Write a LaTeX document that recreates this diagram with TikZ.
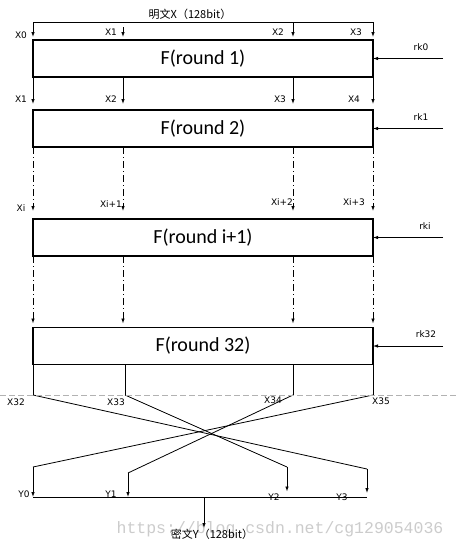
\documentclass[tikz,border=0pt]{standalone}
\usepackage{fontspec}
\setmainfont{Carlito}
\newfontfamily\lblfont{DejaVu Sans}
\newfontfamily\cjkfont{Noto Sans CJK SC}
\newfontfamily\wmfont{Liberation Mono}
\usetikzlibrary{arrows.meta,calc}
\begin{document}
\begin{tikzpicture}[x=1pt,y=-1pt,
  fbox/.style={draw,line width=1.6pt,minimum width=340pt,minimum height=37pt,inner sep=0pt,outer sep=0pt,font=\fontsize{20}{24}\selectfont},
  lbl/.style={inner sep=0pt,font=\lblfont\fontsize{9}{10}\selectfont},
  cjk/.style={inner sep=0pt,font=\cjkfont\fontsize{11}{13}\selectfont},
  ln/.style={line width=0.8pt},
  arr/.style={ln,-{Latex[length=5pt,width=3.5pt]}},
  dd/.style={arr,dash pattern=on 7pt off 3pt on 1pt off 3pt},
  gdash/.style={line width=0.8pt,draw=black!30,dash pattern=on 6pt off 3pt}
]
\useasboundingbox[fill=white] (0,0) rectangle (458,550);

% watermark
\node[inner sep=0pt,font=\wmfont\fontsize{16.5}{18}\selectfont,text=black!20] (wm) at (280,529) {https://blog.csdn.net/cg129054036};

% columns
\coordinate (c0) at (33,0);
\coordinate (c1) at (123,0);
\coordinate (c2) at (293,0);
\coordinate (c3) at (373,0);
\coordinate (rc) at (443,0);

% boxes
\node[fbox] (b1) at (203,58.5) {F(round 1)};
\node[fbox] (b2) at (203,128.5) {F(round 2)};
\node[fbox] (b3) at (203,237.5) {F(round i+1)};
\node[fbox] (b4) at (203,346) {F(round 32)};

% top input
\node[cjk] (title) at (190,14) {明文X（128bit）};
\coordinate (t0) at (33,22);
\coordinate (t1) at (123,27);
\coordinate (t2) at (293,22);
\coordinate (t3) at (373,22);
\draw[ln] (t0) -- (t3);
\draw[arr,shorten >=3pt] (t0) -- (b1.north west);
\draw[arr,shorten >=3pt] (t1) -- (t1 |- b1.north);
\draw[arr,shorten >=3pt] (t2) -- (t2 |- b1.north);
\draw[arr,shorten >=3pt] (t3) -- (b1.north east);
\node[lbl] (lx0) at (21,35) {X0};
\node[lbl] (lx1) at (111,32) {X1};
\node[lbl] (lx2) at (278,32) {X2};
\node[lbl] (lx3) at (356,32) {X3};

% round 1 -> round 2
\foreach \c in {c0,c1,c2,c3}
  \draw[arr,shorten >=6pt] (b1.south -| \c) -- (b2.north -| \c);
\node[lbl] (lx1b) at (21,99) {X1};
\node[lbl] (lx2b) at (111,99) {X2};
\node[lbl] (lx3b) at (280,99) {X3};
\node[lbl] (lx4b) at (354,99) {X4};

% round 2 -> round i+1
\foreach \c in {c0,c1,c2,c3}
  \draw[dd,shorten >=8pt] (b2.south -| \c) -- (b3.north -| \c);
\node[lbl] (lxi) at (21,208) {Xi};
\node[lbl] (lxi1) at (111,204) {Xi+1};
\node[lbl] (lxi2) at (282,202) {Xi+2};
\node[lbl] (lxi3) at (354,202) {Xi+3};

% round i+1 -> round 32
\foreach \c in {c0,c1,c2,c3}
  \draw[dd,shorten >=4pt] (b3.south -| \c) -- (b4.north -| \c);

% round keys
\foreach \b in {b1,b2,b3,b4}
  \draw[arr] (\b.east -| rc) -- (\b.east);
\node[lbl] (rk0) at (421,47) {rk0};
\node[lbl] (rk1) at (421,117) {rk1};
\node[lbl] (rki) at (425,226) {rki};
\node[lbl] (rk32) at (426,334) {rk32};

% outputs of round 32
\coordinate (x32) at (33,395);
\coordinate (x33) at (125,395);
\coordinate (x34) at (293,395);
\coordinate (x35) at (373,395);
\foreach \x in {x32,x33,x34,x35}
  \draw[ln] (b4.south -| \x) -- (\x);

% reverse permutation
\coordinate (y0b) at (33,467);
\coordinate (y1b) at (128,473);
\coordinate (y2b) at (287,467);
\coordinate (y3b) at (367,469);
\coordinate (y0t) at (33,497);
\coordinate (y1t) at (128,497);
\coordinate (y2t) at (287,491.5);
\coordinate (y3t) at (367,493);
\draw[ln] (x32) -- (y3b);
\draw[ln] (x33) -- (y2b);
\draw[ln] (x34) -- (y1b);
\draw[ln] (x35) -- (y0b);
\draw[arr] (y0b) -- (y0t);
\draw[arr] (y1b) -- (y1t);
\draw[arr] (y2b) -- (y2t);
\draw[arr] (y3b) -- (y3t);

% gray separator
\coordinate (gl) at (0,395);
\coordinate (gr) at (458,395);
\draw[gdash] (gl) -- (gr);

\node[lbl] (lx32) at (16,402) {X32};
\node[lbl] (lx33) at (116,402) {X33};
\node[lbl] (lx34) at (273,400) {X34};
\node[lbl] (lx35) at (381,401) {X35};

% output
\coordinate (bl) at (33,497);
\coordinate (br) at (367,497);
\coordinate (om) at (204,497);
\coordinate (oe) at (204,528);
\draw[ln] (bl) -- (br);
\draw[arr] (om) -- (oe);
\node[lbl] (ly0) at (24,494) {Y0};
\node[lbl] (ly1) at (111,494) {Y1};
\node[lbl] (ly2) at (274,497) {Y2};
\node[lbl] (ly3) at (342,497) {Y3};
\node[cjk] (ylab) at (212,534) {密文Y（128bit）};
\end{tikzpicture}
\end{document}
